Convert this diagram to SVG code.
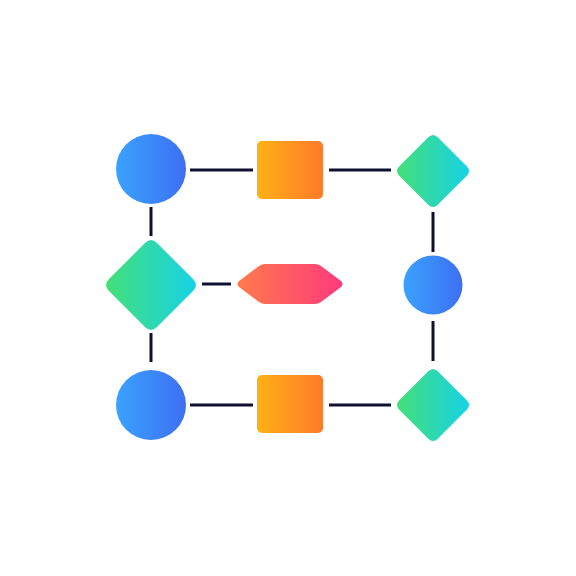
<svg xmlns="http://www.w3.org/2000/svg" width="576" height="576" viewBox="0 0 576 576">
<defs>
<linearGradient id="gBlue" x1="0" y1="0" x2="1" y2="0"><stop offset="0" stop-color="#3aa2fd"/><stop offset="1" stop-color="#3e6ff4"/></linearGradient>
<linearGradient id="gOrange" x1="0" y1="0" x2="1" y2="0"><stop offset="0" stop-color="#ffb114"/><stop offset="1" stop-color="#ff7a2b"/></linearGradient>
<linearGradient id="gGreen" x1="0" y1="0" x2="1" y2="0"><stop offset="0" stop-color="#44df78"/><stop offset="1" stop-color="#17d2e6"/></linearGradient>
<linearGradient id="gPink" x1="0" y1="0" x2="1" y2="0"><stop offset="0" stop-color="#ff7a4c"/><stop offset="1" stop-color="#ff3a7c"/></linearGradient>
<style>
.edge{stroke:#0f1030;stroke-width:3;fill:none}
.blue{fill:url(#gBlue)}
.orange{fill:url(#gOrange)}
.green{fill:url(#gGreen)}
.pink{fill:url(#gPink)}
</style>
</defs>
<rect width="576" height="576" fill="#ffffff"/>
<g id="connectors">
<line class="edge" x1="190" y1="170" x2="253" y2="170"/>
<line class="edge" x1="329" y1="170" x2="391" y2="170"/>
<line class="edge" x1="190" y1="405" x2="253" y2="405"/>
<line class="edge" x1="329" y1="405" x2="391" y2="405"/>
<line class="edge" x1="151" y1="207" x2="151" y2="236"/>
<line class="edge" x1="151" y1="333" x2="151" y2="362"/>
<line class="edge" x1="202" y1="284" x2="231" y2="284"/>
<line class="edge" x1="433" y1="212" x2="433" y2="252"/>
<line class="edge" x1="433" y1="321" x2="433" y2="361"/>
</g>
<g id="circle-top-left"><circle class="blue" cx="151" cy="169" r="35"/></g>
<g id="square-top"><rect class="orange" x="257" y="141" width="66" height="58" rx="5"/></g>
<g id="diamond-top-right"><path class="green" d="M399.5 166 L428 137.5 Q433 132.5 438 137.5 L466.5 166 Q471.5 171 466.5 176 L438 204.5 Q433 209.5 428 204.5 L399.5 176 Q394.5 171 399.5 166 Z"/></g>
<g id="diamond-left"><path class="green" d="M109 279 L145 243 Q151 237 157 243 L193 279 Q199 285 193 291 L157 327 Q151 333 145 327 L109 291 Q103 285 109 279 Z"/></g>
<g id="hexagon"><path class="pink" d="M239 281 L259 266 Q262 264 265 264 L315 264 Q318 264 321 266 L341 281 Q344 284 341 287 L321 302 Q318 304 315 304 L265 304 Q262 304 259 302 L239 287 Q236 284 239 281 Z"/></g>
<g id="circle-right"><circle class="blue" cx="433" cy="285" r="29.5"/></g>
<g id="circle-bottom-left"><circle class="blue" cx="151" cy="405" r="35"/></g>
<g id="square-bottom"><rect class="orange" x="257" y="375" width="66" height="58" rx="5"/></g>
<g id="diamond-bottom-right"><path class="green" d="M399.5 400 L428 371.5 Q433 366.5 438 371.5 L466.5 400 Q471.5 405 466.5 410 L438 438.5 Q433 443.5 428 438.5 L399.5 410 Q394.5 405 399.5 400 Z"/></g>
</svg>
